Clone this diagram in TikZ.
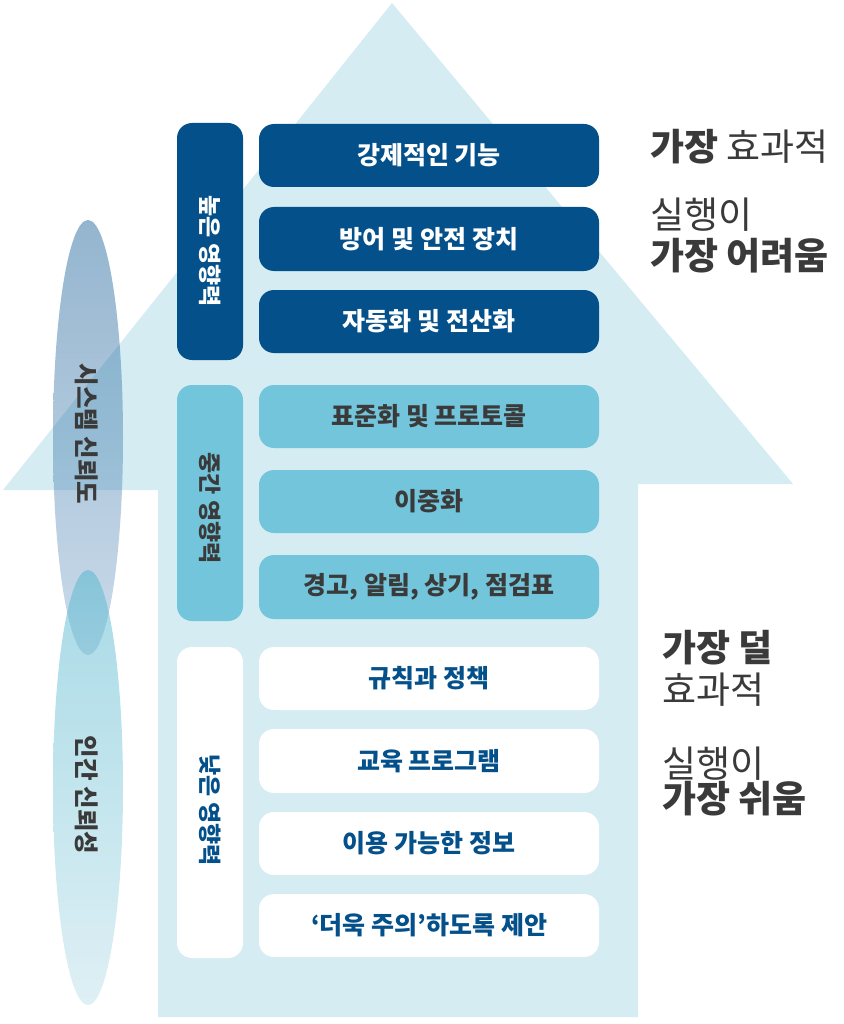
\documentclass[tikz,border=0pt]{standalone}
\usepackage{fontspec}
\setmainfont{Noto Sans CJK KR}
\definecolor{arrowc}{HTML}{D4ECF2}
\definecolor{navy}{HTML}{04508A}
\definecolor{midc}{HTML}{72C5DA}
\definecolor{txt}{HTML}{3A3A3A}
\definecolor{ellAtop}{RGB}{0,78,140}
\definecolor{ellAbot}{RGB}{130,168,205}
\definecolor{ellBtop}{RGB}{79,181,205}
\definecolor{ellBbot}{RGB}{191,225,235}
\begin{document}
\begin{tikzpicture}[x=1pt,y=-1pt,
  rbox/.style={rounded corners=15pt, minimum width=340pt, minimum height=63pt, inner sep=0pt, font=\bfseries\fontsize{25}{28}\selectfont},
  colbox/.style={rounded corners=15pt, minimum width=66pt, inner sep=0pt},
  hiBox/.style={rbox, fill=navy, text=white},
  midBox/.style={rbox, fill=midc, text=txt},
  loBox/.style={rbox, fill=white, text=navy},
  collabel/.style={rotate=-90, inner sep=0pt, font=\bfseries\fontsize{23}{25}\selectfont},
  elllabel/.style={rotate=-90, inner sep=0pt, font=\bfseries\fontsize{24.5}{26}\selectfont, text=txt},
  sidetxt/.style={anchor=base west, inner sep=0pt, text=txt, font=\fontsize{37}{40}\selectfont}
]
\useasboundingbox (0,0) rectangle (843,1024);
% big arrow
\fill[arrowc] (392,3) -- (793,484) -- (638,484) -- (638,1017) -- (158,1017) -- (158,490) -- (3,490) -- cycle;
% ellipses
\shade[top color=ellAtop, bottom color=ellAbot, fill opacity=0.42] (88,437.5) ellipse [x radius=35pt, y radius=217.5pt];
\shade[top color=ellBtop, bottom color=ellBbot, fill opacity=0.5] (88,787.5) ellipse [x radius=35pt, y radius=217.5pt];
\node[elllabel] (sysrel) at (87,434) {시스템 신뢰도};
\node[elllabel] (humrel) at (87,795) {인간 신뢰성};
% high impact
\node[colbox, fill=navy, minimum height=237pt] (colhi) at (210,241.5) {};
\node[collabel, text=white] (colhiL) at (210,251) {높은 영향력};
\node[hiBox] (b1) at (429,155.5) {강제적인 기능};
\node[hiBox, minimum height=64pt] (b2) at (429,239) {방어 및 안전 장치};
\node[hiBox] (b3) at (429,321.5) {자동화 및 전산화};
% middle impact
\node[colbox, fill=midc, minimum height=236pt] (colmid) at (210,503) {};
\node[collabel, text=txt] (colmidL) at (210,508) {중간 영향력};
\node[midBox] (b4) at (429,416.5) {표준화 및 프로토콜};
\node[midBox] (b5) at (429,501.5) {이중화};
\node[midBox, minimum height=64pt] (b6) at (429,587) {경고, 알림, 상기, 점검표};
% low impact
\node[colbox, fill=white, minimum height=311pt] (collo) at (210,802.5) {};
\node[collabel, text=navy] (colloL) at (210,810) {낮은 영향력};
\node[loBox] (b7) at (429,678.5) {규칙과 정책};
\node[loBox, minimum height=64pt] (b8) at (429,761) {교육 프로그램};
\node[loBox] (b9) at (429,843.5) {이용 가능한 정보};
\node[loBox] (b10) at (429,925.5) {‘더욱 주의’하도록 제안};
% side texts
\node[sidetxt] (t1) at (650,161) {\textbf{가장} 효과적};
\node[sidetxt] (t2) at (650,229) {실행이};
\node[sidetxt] (t3) at (650,269) {\textbf{가장 어려움}};
\node[sidetxt] (t4) at (662,661) {\textbf{가장 덜}};
\node[sidetxt] (t5) at (662,703) {효과적};
\node[sidetxt] (t6) at (662,777) {실행이};
\node[sidetxt] (t7) at (662,812) {\textbf{가장 쉬움}};
\end{tikzpicture}
\end{document}
